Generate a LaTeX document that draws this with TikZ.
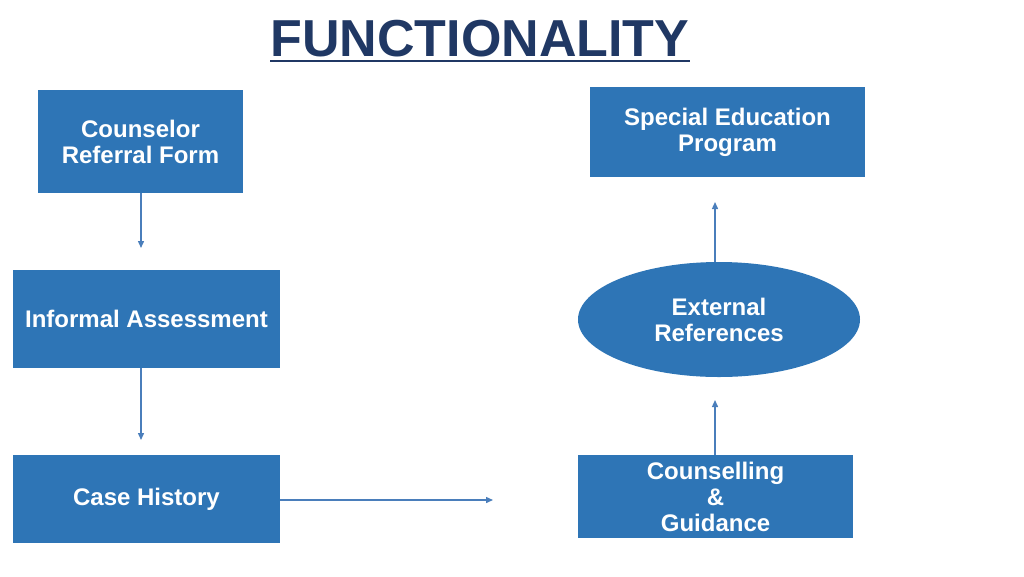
\documentclass[tikz,border=0pt]{standalone}
\usepackage{fontspec}
\setmainfont{Liberation Sans}
\usetikzlibrary{shapes.geometric,arrows.meta}
\definecolor{boxblue}{RGB}{46,117,182}
\definecolor{titlenavy}{RGB}{32,56,100}
\definecolor{arrowblue}{RGB}{74,126,187}
\tikzset{
  stepbox/.style={rectangle, fill=boxblue, text=white, inner sep=0pt,
    align=center, font=\fontsize{24}{26}\selectfont\bfseries},
  refoval/.style={stepbox, ellipse},
  flow/.style={draw=arrowblue, line width=1.4pt,
    -{Triangle[length=7pt,width=6pt]}}
}
\begin{document}
\begin{tikzpicture}[x=1pt,y=-1pt]
        \useasboundingbox (0,0) rectangle (1024,576);

        % title
        \node [inner sep=0pt, anchor=base, text=titlenavy,
          font=\fontsize{52}{56}\selectfont\bfseries] (title) at (480,56) {FUNCTIONALITY};
        \draw [titlenavy, line width=2.5pt] ([yshift=-5pt]title.base west) -- ([yshift=-5pt]title.base east);

        % left column
        \node [stepbox, minimum width=205pt, minimum height=103pt] (referral) at (140.5,141.5) {Counselor\\Referral Form};
        \node [stepbox, minimum width=267pt, minimum height=98pt] (informal) at (146.5,319) {Informal Assessment};
        \node [stepbox, minimum width=267pt, minimum height=88pt] (history) at (146.5,499) {Case History};

        % right column
        \node [stepbox, minimum width=275pt, minimum height=83pt] (guidance) at (715.5,496.5) {Counselling\\\&\\Guidance};
        \node [refoval, minimum width=282pt, minimum height=115pt] (external) at (719,319.5) {External\\References};
        \node [stepbox, minimum width=275pt, minimum height=90pt] (special) at (727.5,132) {Special Education\\Program};

        % free arrow ends
        \coordinate (endA) at (141,248);
        \coordinate (endB) at (141,440);
        \coordinate (endC) at (493,500);
        \coordinate (endD) at (715,400);
        \coordinate (endE) at (715,202);

        \draw [flow] (referral.south -| endA) -- (endA);
        \draw [flow] (informal.south -| endB) -- (endB);
        \draw [flow] (history.east |- endC) -- (endC);
        \draw [flow] (guidance.north -| endD) -- (endD);
        \draw [flow] (external.north -| endE) -- (endE);
      \end{tikzpicture}
\end{document}
